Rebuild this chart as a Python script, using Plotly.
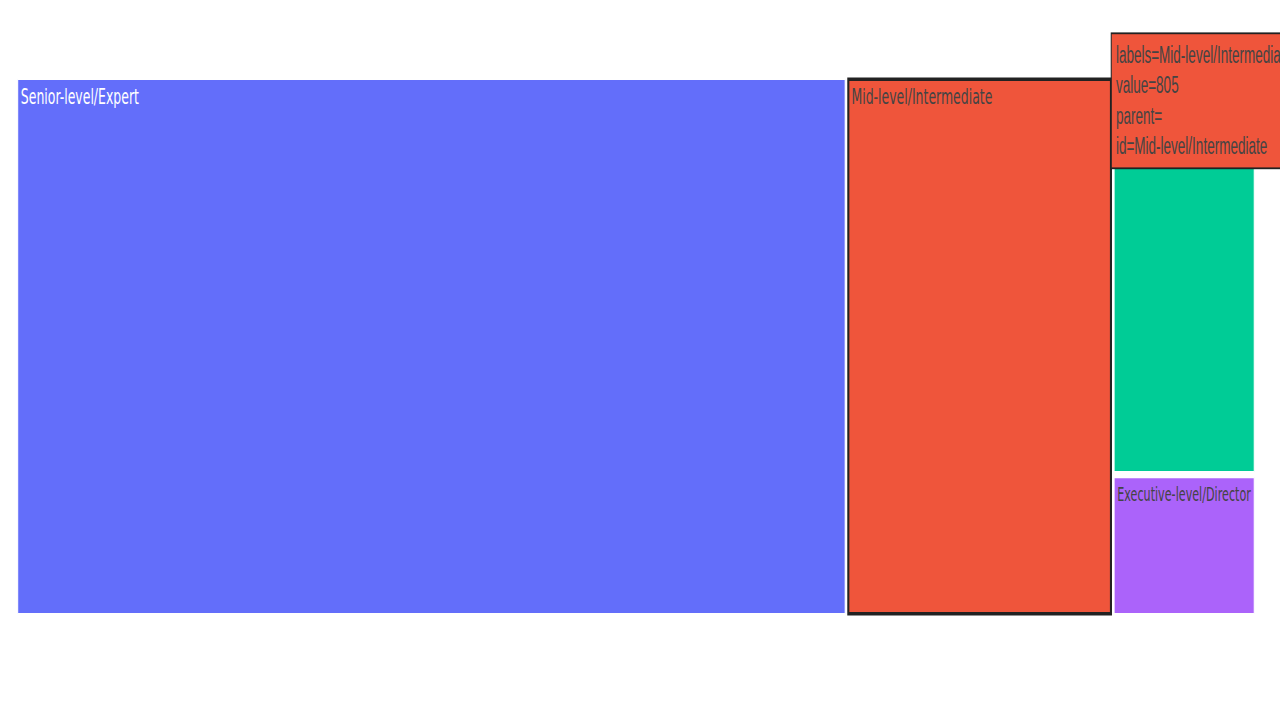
import plotly.graph_objects as go

# experience level counts
levels = ['Senior-level/Expert', 'Mid-level/Intermediate', 'Entry-level/Junior', 'Executive-level/Director']
counts = [2516, 805, 320, 114]
colors = ['#636efa', '#EF553B', '#00cc96', '#ab63fa']

# the tile that is under the mouse in the reference
hovered = 'Mid-level/Intermediate'

# reference picture is a stretched screenshot of a flatter figure
SX, SY = 1.04, 1.8
W, H = round(1280 / SX), round(720 / SY)

line_colors = ['#222' if lv == hovered else 'white' for lv in levels]
line_widths = [2 if lv == hovered else 1 for lv in levels]

fig = go.Figure(go.Treemap(
    labels=levels,
    parents=[''] * len(levels),
    ids=levels,
    values=counts,
    branchvalues='total',
    sort=True,
    pathbar=dict(visible=False),
    marker=dict(colors=colors, line=dict(color=line_colors, width=line_widths)),
    textfont=dict(family='DejaVu Sans, Verdana, sans-serif', size=12),
    hovertemplate='labels=%{label}<br>value=%{value}<br>parent=%{parent}<br>id=%{id}<extra></extra>',
))

# static copy of the hover label
i = levels.index(hovered)
tip = '<br>'.join([
    f'labels={levels[i]}',
    f'value={counts[i]}',
    'parent=',
    f'id={levels[i]}',
])
fig.add_annotation(
    text=tip, xref='paper', yref='paper', x=0.880, y=1.005,
    xanchor='left', yanchor='top', align='left', showarrow=False,
    bgcolor=colors[i], bordercolor='#222', borderwidth=1, borderpad=4,
    font=dict(family='Liberation Sans, Arial, sans-serif', size=13, color='#444'),
)

fig.update_layout(
    width=W, height=H,
    margin=dict(l=11, r=19, t=20, b=53),
    paper_bgcolor='white',
)

stretch = (
    "document.body.style.margin='0';"
    "var gd=document.getElementById('{plot_id}');"
    "gd.style.transformOrigin='0 0';"
    f"gd.style.transform='scale({SX},{SY})';"
)
fig.write_html('out.html', post_script=stretch, config={'displayModeBar': False})
